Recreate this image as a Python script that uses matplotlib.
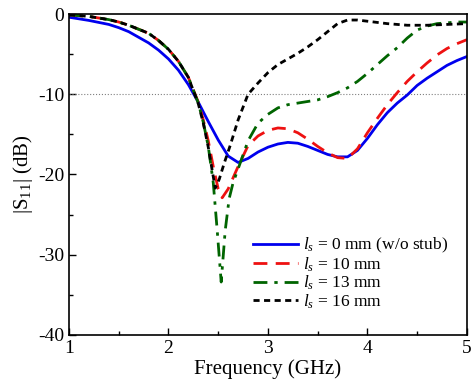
import matplotlib
matplotlib.use('Agg')
import matplotlib.pyplot as plt
from matplotlib.ticker import MultipleLocator

plt.rcParams['font.family'] = 'Liberation Serif'
plt.rcParams['mathtext.fontset'] = 'custom'
plt.rcParams['mathtext.rm'] = 'Liberation Serif'
plt.rcParams['mathtext.it'] = 'Liberation Serif:italic'
plt.rcParams['axes.unicode_minus'] = False

# frequency (GHz) / |S11| (dB)
f_blue = [1.0, 1.2, 1.4, 1.5, 1.6, 1.7, 1.8, 1.9, 2.0, 2.1, 2.2, 2.3, 2.4, 2.5, 2.6,
          2.7, 2.8, 2.9, 3.0, 3.1, 3.2, 3.3, 3.4, 3.5, 3.6, 3.7, 3.8, 3.9, 4.0, 4.1,
          4.2, 4.3, 4.4, 4.5, 4.6, 4.7, 4.8, 4.9, 5.0]
s_blue = [-0.4, -0.8, -1.3, -1.7, -2.2, -2.9, -3.6, -4.5, -5.6, -7.0, -8.8, -11.0,
          -13.4, -15.7, -17.7, -18.5, -18.0, -17.2, -16.6, -16.2, -16.0, -16.1, -16.5,
          -17.0, -17.5, -17.8, -17.8, -17.0, -15.5, -13.8, -12.3, -11.1, -10.1, -8.9,
          -8.0, -7.2, -6.4, -5.8, -5.3]

f_red = [1.0, 1.2, 1.4, 1.5, 1.6, 1.7, 1.8, 1.9, 2.0, 2.1, 2.2, 2.3, 2.35, 2.4, 2.45,
         2.5, 2.54, 2.6, 2.65, 2.7, 2.8, 2.9, 3.0, 3.1, 3.2, 3.3, 3.4, 3.5, 3.6, 3.7,
         3.8, 3.9, 4.0, 4.1, 4.2, 4.3, 4.4, 4.5, 4.6, 4.7, 4.8, 4.9, 5.0]
s_red = [-0.1, -0.3, -0.7, -1.0, -1.4, -1.9, -2.4, -3.3, -4.4, -5.9, -7.9, -11.0,
         -13.2, -15.8, -19.0, -21.8, -22.9, -21.8, -20.4, -19.0, -16.4, -15.2, -14.5,
         -14.2, -14.3, -14.8, -15.6, -16.5, -17.3, -17.9, -18.0, -16.8, -14.8, -13.0,
         -11.3, -9.8, -8.4, -7.2, -6.1, -5.1, -4.3, -3.7, -3.2]

f_green = [1.0, 1.2, 1.4, 1.5, 1.6, 1.7, 1.8, 1.9, 2.0, 2.1, 2.2, 2.3, 2.35, 2.4, 2.45,
           2.49, 2.53, 2.57, 2.61, 2.65, 2.7, 2.8, 2.9, 3.0, 3.1, 3.2, 3.3, 3.4, 3.5,
           3.6, 3.7, 3.8, 3.9, 4.0, 4.1, 4.2, 4.3, 4.4, 4.5, 4.6, 4.7, 4.8, 4.9, 5.0]
s_green = [-0.1, -0.3, -0.7, -1.0, -1.4, -1.9, -2.4, -3.3, -4.4, -5.9, -7.9, -11.1,
           -13.5, -16.5, -21.0, -27.0, -33.4, -27.0, -23.0, -21.0, -19.3, -15.8, -13.6,
           -12.5, -11.7, -11.3, -11.1, -10.9, -10.7, -10.3, -9.8, -9.2, -8.4, -7.4,
           -6.3, -5.2, -4.2, -3.0, -2.0, -1.5, -1.2, -1.1, -1.0, -1.0]

f_black = [1.0, 1.2, 1.4, 1.5, 1.6, 1.7, 1.8, 1.9, 2.0, 2.1, 2.2, 2.3, 2.35, 2.4, 2.43,
           2.47, 2.51, 2.56, 2.62, 2.7, 2.8, 2.9, 3.0, 3.1, 3.2, 3.3, 3.4, 3.5, 3.6,
           3.7, 3.8, 3.9, 4.0, 4.2, 4.4, 4.6, 4.8, 5.0]
s_black = [-0.1, -0.3, -0.7, -1.0, -1.4, -1.9, -2.4, -3.3, -4.4, -5.9, -7.9, -11.2,
           -13.6, -16.6, -18.8, -21.7, -20.6, -18.6, -16.4, -13.2, -10.0, -8.6, -7.3,
           -6.3, -5.6, -4.9, -4.1, -3.2, -2.2, -1.2, -0.75, -0.75, -0.9, -1.2, -1.4,
           -1.4, -1.3, -1.2]

labels = ['$l_s$ = 0 mm (w/o stub)', '$l_s$ = 10 mm', '$l_s$ = 13 mm', '$l_s$ = 16 mm']

fig = plt.figure(figsize=(4.74, 3.87), dpi=100)
ax = fig.add_axes([0.1456, 0.1344, 0.8394, 0.8294])

ax.axhline(-10, color='gray', linestyle=':', linewidth=0.8)
ax.plot(f_blue, s_blue, color='#0000ee', linewidth=2, label=labels[0])
ax.plot(f_red, s_red, color='#ee1111', linewidth=2, dashes=(5, 3), label=labels[1])
ax.plot(f_green, s_green, color='#006400', linewidth=2, dashes=(5, 2.5, 1.2, 2.5), label=labels[2])
ax.plot(f_black, s_black, color='black', linewidth=2, dashes=(2.2, 1.6), label=labels[3])

ax.set_xlim(1, 5)
ax.set_ylim(-40, 0)
ax.xaxis.set_major_locator(MultipleLocator(1))
ax.xaxis.set_minor_locator(MultipleLocator(0.5))
ax.yaxis.set_major_locator(MultipleLocator(10))
ax.yaxis.set_minor_locator(MultipleLocator(5))
ax.tick_params(which='both', direction='in', top=False, right=False, labelsize=14)
ax.tick_params(which='major', length=5, width=1)
ax.tick_params(which='minor', length=3, width=1)
for s in ax.spines.values():
    s.set_linewidth(1.2)

ax.set_xlabel('Frequency (GHz)', fontsize=15, labelpad=2)
ax.set_ylabel('|S$_{11}$| (dB)', fontsize=15, labelpad=2)

ax.legend(loc='upper left', bbox_to_anchor=(0.44, 0.335), frameon=False, fontsize=12.5,
          handlelength=2.6, handletextpad=0.3, labelspacing=0.0, borderpad=0)

fig.savefig('out.png', dpi=100)
